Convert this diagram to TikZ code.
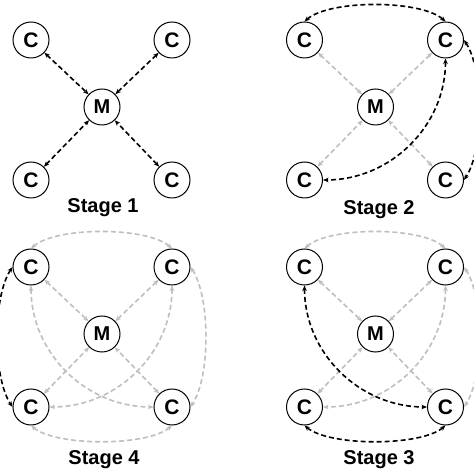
\documentclass[tikz,border=0pt]{standalone}
\usepackage{fontspec}
\setmainfont{Liberation Sans}
\usetikzlibrary{arrows.meta}
\newcommand\stagenodes[5]{%
  \begin{scope}[shift={(#2,#3)}]
    \node[cnode] (#1tl) at (31,434) {C};
    \node[cnode] (#1tr) at (172,434) {C};
    \node[mnode] (#1m)  at (102,367) {M};
    \node[cnode] (#1bl) at (31,294) {C};
    \node[cnode] (#1br) at (172,294) {C};
  \end{scope}
  \node[stagelbl] (#1lbl) at (#5) {#4};}
\newcommand\spokes[2]{%
  \draw[#2] (#1tl) -- (#1m);
  \draw[#2] (#1tr) -- (#1m);
  \draw[#2] (#1bl) -- (#1m);
  \draw[#2] (#1br) -- (#1m);}
\newcommand\toparc[2]{\draw[#2] (#1tl.north) .. controls +(25,22) and +(-25,22) .. (#1tr.north);}
\newcommand\botarc[2]{\draw[#2] (#1bl.south) .. controls +(25,-21) and +(-25,-21) .. (#1br.south);}
\newcommand\rightarc[2]{\draw[#2] (#1tr.east) .. controls +(20,-30) and +(20,30) .. (#1br.east);}
\newcommand\leftarc[2]{\draw[#2] (#1tl.west) .. controls +(-20,-30) and +(-20,30) .. (#1bl.west);}
\newcommand\crossa[2]{\draw[#2] (#1tr.south) to[out=-90,in=0] (#1bl.east);}
\newcommand\crossb[2]{\draw[#2] (#1tl.south) to[out=-90,in=180] (#1br.west);}
\begin{document}
\begin{tikzpicture}[x=1pt,y=1pt,
  cnode/.style={circle,draw=black,line width=1pt,fill=white,minimum size=36pt,inner sep=0pt,
    font=\fontsize{21}{21}\selectfont\bfseries},
  mnode/.style={cnode,font=\fontsize{20}{20}\selectfont\bfseries},
  stagelbl/.style={inner sep=0pt,font=\fontsize{20}{20}\selectfont\bfseries},
  link/.style={line width=1.6pt,dash pattern=on 5pt off 3pt,
    {Stealth[length=5.5pt,width=4.5pt]}-{Stealth[length=5.5pt,width=4.5pt]}},
  blk/.style={link,draw=black},
  gry/.style={link,draw=gray!50}]
\useasboundingbox (0,0) rectangle (474,474);
\clip (0,0) rectangle (474,474);
\fill[white] (0,0) rectangle (474,474);
\stagenodes{a}{0}{0}{Stage 1}{103,266}
\stagenodes{b}{273.5}{0}{Stage 2}{379,264}
\stagenodes{c}{273.5}{-227}{Stage 3}{379,14}
\stagenodes{d}{0}{-227}{Stage 4}{104,14}
% Stage 1
\spokes{a}{blk}
% Stage 2
\spokes{b}{gry}
\toparc{b}{blk}
\crossa{b}{blk}
\rightarc{b}{blk}
% Stage 3
\spokes{c}{gry}
\toparc{c}{gry}
\crossa{c}{gry}
\rightarc{c}{gry}
\crossb{c}{blk}
\botarc{c}{blk}
% Stage 4
\spokes{d}{gry}
\toparc{d}{gry}
\crossa{d}{gry}
\rightarc{d}{gry}
\crossb{d}{gry}
\botarc{d}{gry}
\leftarc{d}{blk}
\end{tikzpicture}
\end{document}
